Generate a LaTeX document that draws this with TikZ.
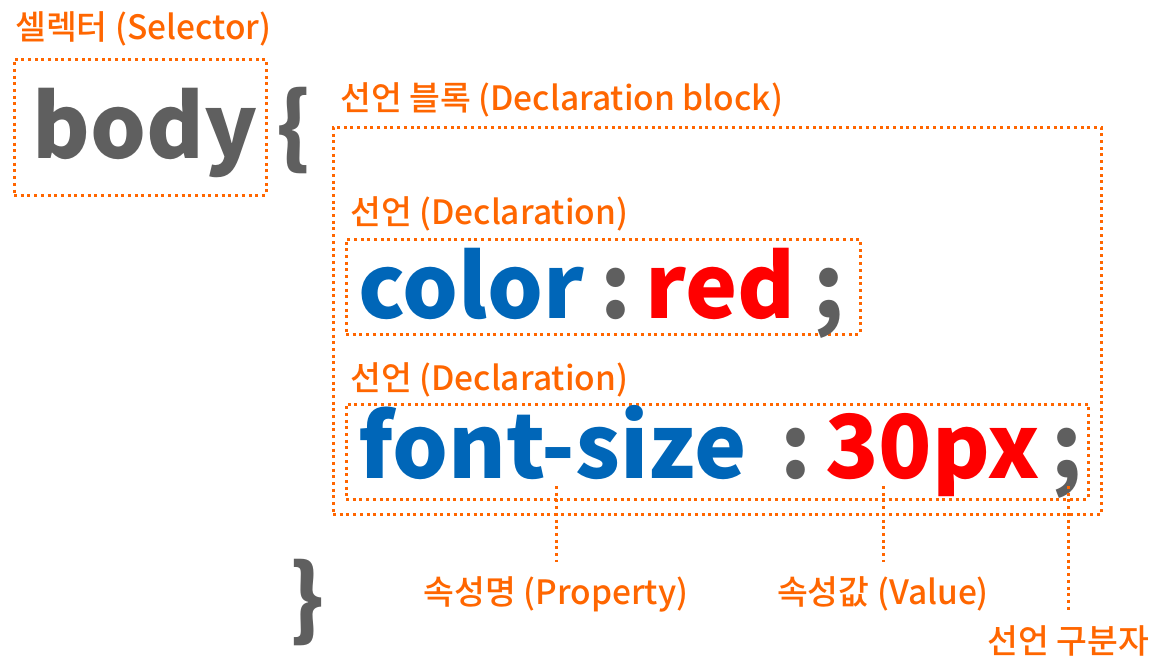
\documentclass[tikz,border=0pt]{standalone}
\usepackage{fontspec}
\setmainfont{Noto Sans CJK KR}
\newfontfamily\lblfont{Noto Sans CJK KR Medium}
\usepackage{tikz}
\usetikzlibrary{positioning}
\definecolor{lblorange}{HTML}{FF6600}
\definecolor{propblue}{HTML}{0066B8}
\definecolor{valred}{HTML}{FF0000}
\definecolor{symgray}{HTML}{5F5F5F}

\begin{document}
\begin{tikzpicture}[x=1pt,y=-1pt,inner sep=0pt,
    dotline/.style={draw=lblorange,line width=3pt,dash pattern=on 3pt off 3.7pt},
    dotbox/.style={dotline,rectangle},
    lbl/.style={text=lblorange,font=\lblfont\fontsize{33.5}{36}\selectfont},
    code/.style={font=\fontsize{88}{96}\selectfont\bfseries,anchor=base west},
    leader/.style={dotline,shorten >=14pt}]
  \useasboundingbox (0,0) rectangle (1162,672);
  % boxes
  \node[dotbox,minimum width=252pt,minimum height=136pt] (sel_box) at (140,127) {};
  \node[dotbox,minimum width=768pt,minimum height=387pt] (blk_box) at (717,320.5) {};
  \node[dotbox,minimum width=514pt,minimum height=95pt] (dec_1) at (603,286.5) {};
  \node[dotbox,minimum width=742pt,minimum height=95pt] (dec_2) at (717,451.5) {};
  % labels
  \node[lbl,anchor=base west] (sel_lbl) at (15,39.5) {셀렉터 (Selector)};
  \node[lbl,anchor=base west] (blk_lbl) at (340,110.5) {선언 블록 (Declaration block)};
  \node[lbl,anchor=base west] (dec_lbl_1) at (350,224.5) {선언 (Declaration)};
  \node[lbl,anchor=base west] (dec_lbl_2) at (350,390.5) {선언 (Declaration)};
  \node[lbl,anchor=base] (prop_lbl) at (556,604.5) {속성명 (Property)};
  \node[lbl,anchor=base] (val_lbl) at (883,604.5) {속성값 (Value)};
  \node[lbl,anchor=base] (sep_lbl) at (1068,653.5) {선언 구분자};
  % code
  \node[code,text=symgray] (sel) at (32,158) {body};
  \node[code,text=symgray] (open) at (276,158) {\{};
  \node[code,text=propblue] (prop_1) at (358,318) {color};
  \node[code,text=symgray] (colon_1) at (600,318) {:};
  \node[code,text=valred] (val_1) at (645,318) {red};
  \node[code,text=symgray] (semi_1) at (813,318) {;};
  \node[code,text=propblue] (prop_2) at (358,478) {font-size};
  \node[code,text=symgray] (colon_2) at (780,478) {:};
  \node[code,text=valred] (val_2) at (825,478) {30px};
  \node[code,text=symgray] (semi_2) at (1051,478) {;};
  \node[code,text=symgray] (close) at (289,630) {\}};
  % leaders
  \coordinate (lead_top) at (0,486);
  \draw[leader] (prop_lbl.north |- lead_top) -- (prop_lbl.north);
  \draw[leader] (val_lbl.north |- lead_top) -- (val_lbl.north);
  \draw[leader] (sep_lbl.north |- lead_top) -- (sep_lbl.north);
\end{tikzpicture}
\end{document}
